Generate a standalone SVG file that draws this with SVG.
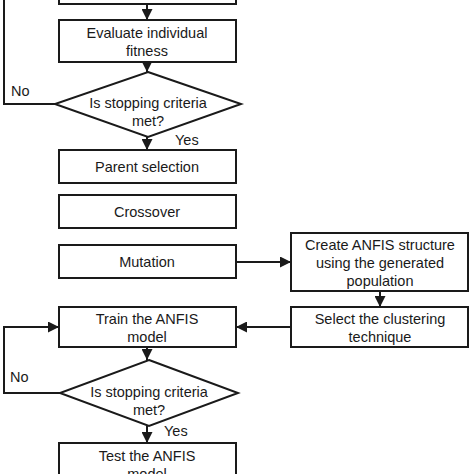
<svg xmlns="http://www.w3.org/2000/svg" width="474" height="474" viewBox="0 0 474 474">
<style>
.b{fill:#fff;stroke:#1a1a1a;stroke-width:2}
.c{fill:none;stroke:#1a1a1a;stroke-width:2}
text{font-family:"Liberation Sans",Arial,sans-serif;font-size:14.5px;fill:#1a1a1a;text-anchor:middle}
.l{text-anchor:start}
</style>
<defs>
<marker id="a" viewBox="0 0 10 10" refX="10" refY="5" markerWidth="5.5" markerHeight="5.5" orient="auto" markerUnits="strokeWidth">
<path d="M0,0 L10,5 L0,10 z" fill="#1a1a1a"/>
</marker>
</defs>
<g id="connectors">
<line class="c" x1="147" y1="4" x2="147" y2="20" marker-end="url(#a)"/>
<line class="c" x1="147" y1="62" x2="147" y2="72" marker-end="url(#a)"/>
<polyline class="c" points="55,104 4,104 4,-2"/>
<line class="c" x1="147" y1="137" x2="147" y2="150" marker-end="url(#a)"/>
<line class="c" x1="236" y1="262" x2="291" y2="262" marker-end="url(#a)"/>
<line class="c" x1="380" y1="291" x2="380" y2="307" marker-end="url(#a)"/>
<line class="c" x1="291" y1="327" x2="236" y2="327" marker-end="url(#a)"/>
<line class="c" x1="147" y1="347" x2="147" y2="360" marker-end="url(#a)"/>
<polyline class="c" points="60,393 4,393 4,327 59,327" marker-end="url(#a)"/>
<line class="c" x1="147" y1="426" x2="147" y2="443" marker-end="url(#a)"/>
<text class="l" x="11" y="96">No</text>
<text class="l" x="175" y="145">Yes</text>
<text class="l" x="10" y="382">No</text>
<text class="l" x="164" y="436">Yes</text>
</g>
<g id="n0"><rect class="b" x="59" y="-10" width="177" height="14"/></g>
<g id="n1"><rect class="b" x="59" y="20" width="177" height="42"/>
<text x="147" y="38">Evaluate individual</text><text x="147" y="56">fitness</text></g>
<g id="n2"><polygon class="b" points="148,72 241,104 148,137 55,104"/>
<text x="148" y="108">Is stopping criteria</text><text x="148" y="126">met?</text></g>
<g id="n3"><rect class="b" x="59" y="150" width="177" height="33"/><text x="147" y="172">Parent selection</text></g>
<g id="n4"><rect class="b" x="59" y="195" width="177" height="33"/><text x="147" y="217">Crossover</text></g>
<g id="n5"><rect class="b" x="59" y="245" width="177" height="33"/><text x="147" y="267">Mutation</text></g>
<g id="n6"><rect class="b" x="291" y="233" width="177" height="58"/>
<text x="380" y="250">Create ANFIS structure</text><text x="380" y="268">using the generated</text><text x="380" y="286">population</text></g>
<g id="n7"><rect class="b" x="291" y="307" width="177" height="40"/>
<text x="380" y="324">Select the clustering</text><text x="380" y="342">technique</text></g>
<g id="n8"><rect class="b" x="59" y="307" width="177" height="40"/>
<text x="147" y="324">Train the ANFIS</text><text x="147" y="342">model</text></g>
<g id="n9"><polygon class="b" points="149,360 238,393 149,426 60,393"/>
<text x="149" y="397">Is stopping criteria</text><text x="149" y="415">met?</text></g>
<g id="n10"><rect class="b" x="59" y="443" width="177" height="40"/>
<text x="147" y="461">Test the ANFIS</text><text x="147" y="479">model</text></g>
</svg>
